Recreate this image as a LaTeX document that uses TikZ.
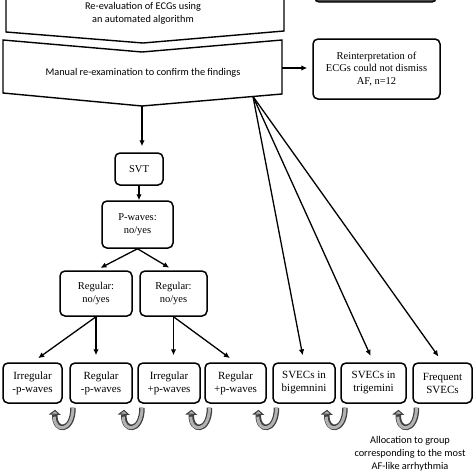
\documentclass[tikz,border=0pt]{standalone}
\usepackage{fontspec}
\setmainfont{Liberation Serif}
\newfontfamily\carlito{Carlito}
\usetikzlibrary{arrows.meta, positioning, calc}

\begin{document}
\begin{tikzpicture}[x=1pt, y=-1pt, >={Latex[length=6pt,width=5.5pt]},
    chev/.style={draw, line width=1.4pt, line join=miter},
    sanstext/.style={align=center, font=\carlito\fontsize{10.3}{12.7}\selectfont},
    box/.style={draw, line width=1.5pt, rounded corners=5pt, align=center, inner sep=1pt, font=\fontsize{10.5}{12.8}\selectfont},
    leaf/.style={box, minimum height=40pt, font=\fontsize{11}{13}\selectfont},
    arr/.style={->, line width=1.3pt},
    uout/.style={line width=5.5pt, black!75, -{Triangle[length=5pt, width=12pt, line width=1pt, fill=gray!60]}},
    uin/.style={line width=3pt, gray!60, shorten >=1pt}]

    \useasboundingbox (0,0) rectangle (474,474);

    % top boxes, cut by the frame
    \path[fill=black!70, draw=black, line width=1.4pt, rounded corners=4pt] (315,-20) rectangle (436,2);
    \draw[chev] (6,-20) -- (6,32) -- (143,43) -- (284,31) -- (284,-20);
    \node[sanstext] (reeval) at (143,13.5) {Re-evaluation of ECGs using\\an automated algorithm};

    % manual step
    \coordinate (c2bot) at (142,106);
    \coordinate (c2right) at (282,68);
    \coordinate (fan) at (253,96.5);
    \draw[chev] (3,40) -- (142,52) -- (282,40) -- (282,94) -- (c2bot) -- (3,93) -- cycle;
    \node[sanstext] (manual) at (143,73) {Manual re-examination to confirm the findings};

    \node[box, minimum width=127pt, minimum height=60pt] (reint) at (376.5,69) {Reinterpretation of\\ECGs could not dismiss\\AF, n=12};

    % SVT branch
    \node[box, minimum width=48pt, minimum height=32pt] (svt) at (139,169) {SVT};
    \node[box, minimum width=71pt, minimum height=47pt] (pw) at (137.5,224.5) {P-waves:\\no/yes};
    \node[box, minimum width=72pt, minimum height=45pt] (regA) at (96,293.5) {Regular:\\no/yes};
    \node[box, minimum width=67pt, minimum height=45pt] (regB) at (173.5,293.5) {Regular:\\no/yes};

    % groups
    \node[leaf, minimum width=59pt] (irrN) at (32.5,383) {Irregular\\-p-waves};
    \node[leaf, minimum width=62pt] (regN) at (101,383) {Regular\\-p-waves};
    \node[leaf, minimum width=62pt] (irrP) at (169,383) {Irregular\\+p-waves};
    \node[leaf, minimum width=61pt] (regP) at (235.5,383) {Regular\\+p-waves};
    \node[leaf, minimum width=62pt] (bigem) at (304,383) {SVECs in\\bigemnini};
    \node[leaf, minimum width=65pt] (trigem) at (373.5,383) {SVECs in\\trigemini};
    \node[leaf, minimum width=59pt] (freq) at (442.5,383) {Frequent\\SVECs};

    \draw[arr, shorten >=5pt] (c2right) -- (c2right -| reint.west);
    \draw[arr, shorten >=6pt] (c2bot) -- (c2bot |- svt.north);
    \draw[arr] (svt.south) -- (svt.south |- pw.north);
    \draw[arr, shorten >=5pt] (pw.south) -- (regA.north);
    \draw[arr, shorten >=5pt] (pw.south) -- (regB.north);
    \draw[arr, shorten >=7pt] (regA.south) -- (irrN.north);
    \draw[arr, shorten >=7pt] (regA.south) -- (regA.south |- regN.north);
    \draw[arr, shorten >=7pt] (regB.south) -- (regB.south |- irrP.north);
    \draw[arr, shorten >=7pt] (regB.south) -- (regP.north);
    \foreach \g in {bigem, trigem, freq}
        \draw[arr, shorten >=7pt] (fan) -- (\g.north);

    % U-turn arrows between the groups
    \foreach \a/\b in {irrN/regN, regN/irrP, irrP/regP, regP/bigem, bigem/trigem, trigem/freq} {
        \coordinate (gap) at ($(\a.south east)!0.5!(\b.south west)+(-2,0)$);
        \draw[uout] ($(gap)+(9,4)$) .. controls ($(gap)+(9,29)$) and ($(gap)+(-10,29)$) .. ($(gap)+(-9,6)$);
        \draw[uin] ($(gap)+(9,3.5)$) .. controls ($(gap)+(9,29)$) and ($(gap)+(-10,29)$) .. ($(gap)+(-9.6,12)$);
    }

    \node[sanstext, font=\carlito\fontsize{10.3}{13}\selectfont] (alloc) at (410,453.5) {Allocation to group\\corresponding to the most\\AF-like arrhythmia};
\end{tikzpicture}
\end{document}
